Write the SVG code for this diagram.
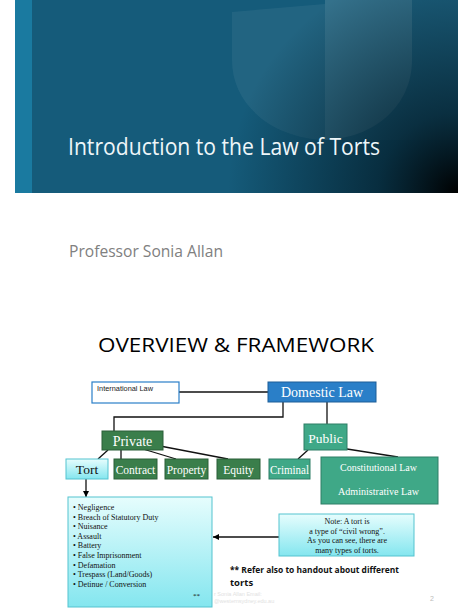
<svg xmlns="http://www.w3.org/2000/svg" width="474" height="613" viewBox="0 0 474 613">
<defs>
  <radialGradient id="dark" cx="458" cy="193" r="230" gradientUnits="userSpaceOnUse">
    <stop offset="0" stop-color="#000000" stop-opacity="1"/>
    <stop offset="0.35" stop-color="#021a26" stop-opacity="0.7"/>
    <stop offset="1" stop-color="#021a26" stop-opacity="0"/>
  </radialGradient>
  <linearGradient id="cyan" x1="0" y1="0" x2="0" y2="1">
    <stop offset="0" stop-color="#e6fdfd"/>
    <stop offset="1" stop-color="#84e6ef"/>
  </linearGradient>
  <marker id="ah" viewBox="0 0 10 10" refX="10" refY="5" markerWidth="6" markerHeight="6" orient="auto" markerUnits="userSpaceOnUse">
    <path d="M0,0 L10,5 L0,10 Z" fill="#000"/>
  </marker>
  <style>
    .serif { font-family: "Liberation Serif", "Times New Roman", serif; }
    .sans { font-family: "Liberation Sans", Arial, sans-serif; }
    .cal { font-family: "Open Sans", "Noto Sans", sans-serif; }
    .dark { fill: #3a7e4b; stroke: #2b5f38; stroke-width: 1; }
    .teal { fill: #3fa887; stroke: #2e7e66; stroke-width: 1; }
    .lt { fill: url(#cyan); stroke: #55c3cf; stroke-width: 1; }
    .wt { fill: #ffffff; }
    .conn { stroke: #111; stroke-width: 1.3; fill: none; }
    .item { font-size: 8px; fill: #111; }
  </style>
</defs>

<!-- Banner -->
<g id="banner">
  <rect x="15" y="0" width="443" height="193" fill="#155b7a"/>
  <rect x="15" y="0" width="17" height="193" fill="#1a7aa0"/>
  <path d="M232,12 L325,4 L325,140 C272,138 232,105 232,60 Z" fill="#ffffff" fill-opacity="0.06"/>
  <path d="M325,0 L412,0 L412,60 C412,105 375,138 325,140 Z" fill="#ffffff" fill-opacity="0.11"/>
  <path d="M325,0 L458,0 L458,140 L325,140 Z" fill="#ffffff" fill-opacity="0.03"/>
  <rect x="15" y="0" width="443" height="193" fill="url(#dark)"/>
  <text x="68" y="155" class="cal" font-size="24" fill="#eef6f9" textLength="312" lengthAdjust="spacingAndGlyphs">Introduction to the Law of Torts</text>
</g>

<text x="69" y="257" class="cal" font-size="16" fill="#808080" textLength="154" lengthAdjust="spacingAndGlyphs">Professor Sonia Allan</text>
<text x="98" y="352" class="cal" font-size="20" fill="#000" textLength="276" lengthAdjust="spacingAndGlyphs">OVERVIEW &amp; FRAMEWORK</text>

<!-- faint footer -->
<g id="footer" fill="#e2e2e2" class="sans" font-size="5.5">
  <text x="214" y="596">r Sonia Allan    Email:</text>
  <text x="214" y="603">@westernsydney.edu.au</text>
  <text x="430" y="601" fill="#bbbbbb" font-size="7">2</text>
</g>

<!-- Connectors -->
<g id="connectors">
  <line class="conn" x1="179" y1="392" x2="268" y2="392"/>
  <polyline class="conn" points="283,402 283,417 114,417 114,431"/>
  <line class="conn" x1="327" y1="402" x2="327" y2="424"/>
  <line class="conn" x1="108" y1="450" x2="98" y2="459"/>
  <line class="conn" x1="121" y1="450" x2="121" y2="459"/>
  <line class="conn" x1="143" y1="449" x2="176" y2="459"/>
  <line class="conn" x1="160" y1="446" x2="228" y2="459"/>
  <line class="conn" x1="308" y1="450" x2="298" y2="459"/>
  <line class="conn" x1="347" y1="449" x2="398" y2="457"/>
  <line class="conn" x1="86" y1="479" x2="86" y2="497" marker-end="url(#ah)"/>
  <line class="conn" x1="279" y1="537" x2="213" y2="537" marker-end="url(#ah)"/>
</g>

<!-- Nodes -->
<g id="international">
  <rect x="92" y="382" width="87" height="21" fill="#fff" stroke="#2a7fc8" stroke-width="1.2"/>
  <text x="97" y="391" class="sans" font-size="7" fill="#222" textLength="56" lengthAdjust="spacingAndGlyphs">International Law</text>
</g>
<g id="domestic">
  <rect x="268" y="382" width="108" height="20" fill="#2a7fc8" stroke="#1d5e98"/>
  <text x="322" y="397" class="serif wt" font-size="14" text-anchor="middle">Domestic Law</text>
</g>
<g id="private">
  <rect class="dark" x="102" y="431" width="61" height="19"/>
  <text x="132.5" y="446" class="serif wt" font-size="14" text-anchor="middle">Private</text>
</g>
<g id="public">
  <rect class="teal" x="304" y="424" width="43" height="26"/>
  <text x="325.5" y="443" class="serif wt" font-size="13.5" text-anchor="middle">Public</text>
</g>
<g id="tort">
  <rect class="lt" x="66" y="459" width="42" height="20"/>
  <text x="87" y="474" class="serif" font-size="13.5" fill="#111" text-anchor="middle">Tort</text>
</g>
<g id="contract">
  <rect class="dark" x="114" y="459" width="43" height="20"/>
  <text x="135.5" y="474" class="serif wt" font-size="11.5" text-anchor="middle">Contract</text>
</g>
<g id="property">
  <rect class="dark" x="165" y="459" width="43" height="20"/>
  <text x="186.5" y="474" class="serif wt" font-size="11.5" text-anchor="middle">Property</text>
</g>
<g id="equity">
  <rect class="dark" x="217" y="459" width="43" height="20"/>
  <text x="238.5" y="474" class="serif wt" font-size="11.5" text-anchor="middle">Equity</text>
</g>
<g id="criminal">
  <rect class="teal" x="269" y="459" width="41" height="20"/>
  <text x="289.5" y="474" class="serif wt" font-size="11.5" text-anchor="middle" textLength="39" lengthAdjust="spacingAndGlyphs">Criminal</text>
</g>
<g id="constitutional">
  <rect class="teal" x="321" y="457" width="117" height="47"/>
  <text x="378.5" y="471" class="serif wt" font-size="10" text-anchor="middle" textLength="77" lengthAdjust="spacingAndGlyphs">Constitutional Law</text>
  <text x="378.5" y="495" class="serif wt" font-size="10" text-anchor="middle" textLength="81" lengthAdjust="spacingAndGlyphs">Administrative Law</text>
</g>
<g id="tort-list">
  <rect class="lt" x="68" y="497" width="144" height="110"/>
  <g class="serif item">
    <text x="73" y="510">• Negligence</text>
    <text x="73" y="520">• Breach of Statutory Duty</text>
    <text x="73" y="529">• Nuisance</text>
    <text x="73" y="539">• Assault</text>
    <text x="73" y="548">• Battery</text>
    <text x="73" y="558">• False Imprisonment</text>
    <text x="73" y="568">• Defamation</text>
    <text x="73" y="577">• Trespass (Land/Goods)</text>
    <text x="73" y="587">• Detinue / Conversion</text>
    <text x="193" y="598" font-size="7">**</text>
  </g>
</g>
<g id="note">
  <rect class="lt" x="279" y="514" width="135" height="42"/>
  <g class="serif item" text-anchor="middle">
    <text x="347" y="524">Note: A tort is</text>
    <text x="347" y="534">a type of “civil wrong”.</text>
    <text x="347" y="543">As you can see, there are</text>
    <text x="347" y="553">many types of torts.</text>
  </g>
</g>
<g id="refer" class="cal" font-weight="bold" font-size="9.5" fill="#111">
  <text x="230" y="573" textLength="169" lengthAdjust="spacingAndGlyphs">** Refer also  to handout about different</text>
  <text x="230" y="586">torts</text>
</g>
</svg>
